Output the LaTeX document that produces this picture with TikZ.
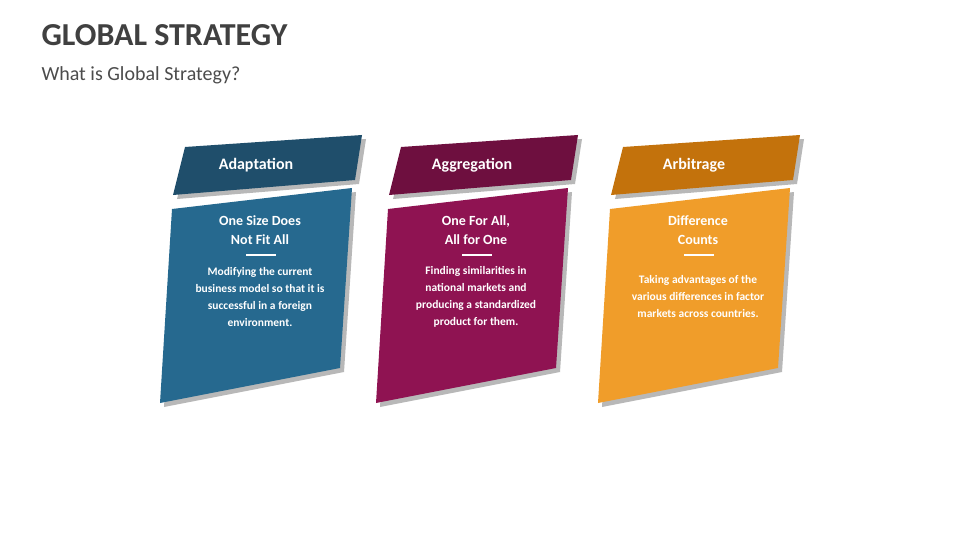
\documentclass[tikz,border=0pt]{standalone}
\usepackage{fontspec}
\setmainfont{Carlito}
\begin{document}
\begin{tikzpicture}[x=1pt,y=-1pt,
  shad/.style={fill=black!28},
  wtxt/.style={text=white,font=\bfseries,align=center}]
\useasboundingbox[fill=white] (0,0) rectangle (960,540);
\node[anchor=west,font=\bfseries\fontsize{32}{36}\selectfont,text=black!75] (title) at (38,35) {GLOBAL STRATEGY};
\node[anchor=west,font=\fontsize{20}{24}\selectfont,text=black!70] (sub) at (38,75) {What is Global Strategy?};
\definecolor{hA}{HTML}{1F4E6B}\definecolor{bA}{HTML}{26698F}
\definecolor{hB}{HTML}{6E0F3F}\definecolor{bB}{HTML}{8F1352}
\definecolor{hC}{HTML}{C3720C}\definecolor{bC}{HTML}{F09D2A}
\foreach \dx/\hc/\bc/\hd/\sh/\bd [count=\i] in {
  0/hA/bA/Adaptation/{One Size Does\\Not Fit All}/{Modifying the current\\business model so that it is\\successful in a foreign\\environment.},
  216/hB/bB/Aggregation/{One For All,\\All for One}/{Finding similarities in\\national markets and\\producing a standardized\\product for them.},
  438/hC/bC/Arbitrage/{Difference\\Counts}/{Taking advantages of the\\various differences in factor\\markets across countries.}}{
  \begin{scope}[xshift=\dx pt]
  \fill[shad] (189,151)--(366,139)--(359,184)--(177,199)--cycle;
  \fill[\hc] (185,147)--(362,135)--(355,180)--(173,195)--cycle;
  \fill[shad] (176,213)--(356,192)--(344,372)--(164,407)--cycle;
  \fill[\bc] (172,209)--(352,188)--(340,368)--(160,403)--cycle;
  \node[wtxt,font=\bfseries\fontsize{16}{19}\selectfont] (h\i) at (256,165) {\hd};
  \node[wtxt,font=\bfseries\fontsize{14}{19}\selectfont] (s\i) at (260,230) {\sh};
  \draw[white,line width=2] (246,255)--(276,255);
  \node[wtxt,font=\bfseries\fontsize{11.5}{17}\selectfont] (b\i) at (260,297) {\bd};
  \end{scope}}
\end{tikzpicture}
\end{document}
